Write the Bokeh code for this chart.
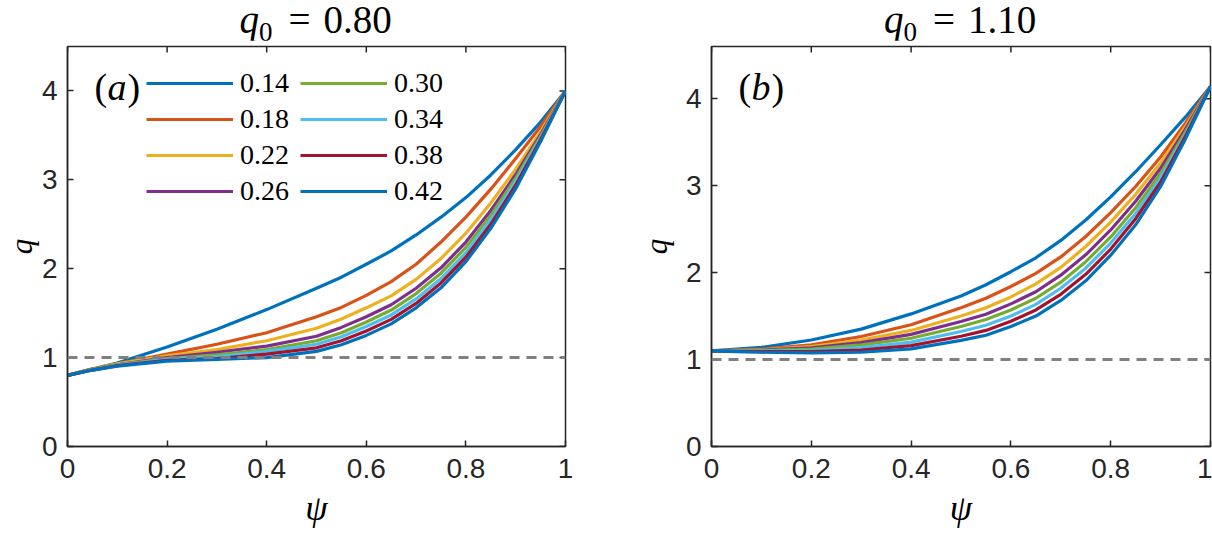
import math

from bokeh.embed import file_html
from bokeh.layouts import column, row
from bokeh.models import (Div, FixedTicker, Label, Legend, LegendItem,
                          Range1d, Span)
from bokeh.plotting import figure
from bokeh.resources import INLINE

# ---------------------------------------------------------------- data
psi = [0.0, 0.05, 0.1, 0.2, 0.3, 0.4, 0.5, 0.55, 0.6, 0.65,
       0.7, 0.75, 0.8, 0.85, 0.9, 0.95, 1.0]

param_labels = ["0.14", "0.18", "0.22", "0.26", "0.30", "0.34", "0.38", "0.42"]

# q profiles for q0 = 0.80
qa_014 = [0.80, 0.87, 0.94, 1.12, 1.32, 1.54, 1.78, 1.905, 2.05, 2.20,
          2.38, 2.58, 2.80, 3.055, 3.34, 3.65, 4.00]
qa_018 = [0.80, 0.87, 0.93, 1.04, 1.15, 1.28, 1.46, 1.565, 1.70, 1.855,
          2.05, 2.30, 2.58, 2.895, 3.24, 3.60, 4.00]
qa_022 = [0.80, 0.87, 0.93, 1.02, 1.09, 1.19, 1.33, 1.435, 1.56, 1.695,
          1.88, 2.115, 2.40, 2.74, 3.12, 3.54, 4.00]
qa_026 = [0.80, 0.87, 0.92, 1.00, 1.06, 1.13, 1.24, 1.34, 1.46, 1.595,
          1.78, 2.01, 2.30, 2.655, 3.06, 3.51, 4.00]
qa_030 = [0.80, 0.87, 0.92, 0.99, 1.03, 1.09, 1.19, 1.28, 1.40, 1.535,
          1.72, 1.95, 2.24, 2.60, 3.02, 3.49, 4.00]
qa_034 = [0.80, 0.86, 0.915, 0.98, 1.01, 1.07, 1.15, 1.235, 1.35, 1.48,
          1.66, 1.89, 2.18, 2.55, 2.98, 3.47, 4.00]
qa_038 = [0.80, 0.86, 0.91, 0.97, 0.99, 1.04, 1.11, 1.19, 1.30, 1.43,
          1.61, 1.84, 2.13, 2.50, 2.94, 3.45, 4.00]
qa_042 = [0.80, 0.86, 0.905, 0.96, 0.98, 1.00, 1.07, 1.145, 1.25, 1.38,
          1.56, 1.785, 2.08, 2.455, 2.90, 3.43, 4.00]

# q profiles for q0 = 1.10
qb_014 = [1.10, 1.12, 1.14, 1.225, 1.35, 1.525, 1.73, 1.86, 2.01, 2.17,
          2.37, 2.605, 2.87, 3.16, 3.47, 3.79, 4.14]
qb_018 = [1.10, 1.11, 1.12, 1.17, 1.265, 1.40, 1.595, 1.705, 1.84, 1.99,
          2.18, 2.415, 2.69, 2.99, 3.33, 3.72, 4.14]
qb_022 = [1.10, 1.105, 1.11, 1.15, 1.225, 1.335, 1.50, 1.595, 1.72, 1.87,
          2.06, 2.30, 2.58, 2.90, 3.26, 3.68, 4.14]
qb_026 = [1.10, 1.10, 1.107, 1.135, 1.195, 1.29, 1.437, 1.52, 1.64, 1.78,
          1.97, 2.205, 2.49, 2.82, 3.20, 3.65, 4.14]
qb_030 = [1.10, 1.10, 1.103, 1.12, 1.168, 1.245, 1.38, 1.46, 1.57, 1.705,
          1.89, 2.125, 2.41, 2.745, 3.14, 3.62, 4.14]
qb_034 = [1.10, 1.10, 1.098, 1.103, 1.137, 1.20, 1.322, 1.395, 1.50, 1.635,
          1.82, 2.05, 2.34, 2.68, 3.09, 3.59, 4.14]
qb_038 = [1.10, 1.095, 1.09, 1.09, 1.11, 1.16, 1.268, 1.335, 1.44, 1.57,
          1.75, 1.98, 2.27, 2.62, 3.04, 3.57, 4.14]
qb_042 = [1.10, 1.09, 1.084, 1.076, 1.084, 1.122, 1.22, 1.28, 1.38, 1.50,
          1.68, 1.905, 2.20, 2.55, 2.99, 3.54, 4.14]

x_ticks = [0, 0.2, 0.4, 0.6, 0.8, 1]
x_tick_labels = ["0", "0.2", "0.4", "0.6", "0.8", "1"]
y_ticks = [0, 1, 2, 3, 4]
y_tick_labels = ["0", "1", "2", "3", "4"]
q_reference = 1.0

curves_a = [qa_014, qa_018, qa_022, qa_026, qa_030, qa_034, qa_038, qa_042]
curves_b = [qb_014, qb_018, qb_022, qb_026, qb_030, qb_034, qb_038, qb_042]

# ---------------------------------------------------------------- style
colors = ["#0072BD", "#D95319", "#EDB120", "#7E2F8E",
          "#77AC30", "#4DBEEE", "#A2142F", "#0072BD"]
AX = "#262626"
SERIF = "Liberation Serif"
SANS = "Liberation Sans"
FRAME_H = 400
TICK_LEN = 6


def style_axis(axis, ticks, labels):
    axis.ticker = FixedTicker(ticks=ticks)
    axis.major_label_overrides = {t: s for t, s in zip(ticks, labels)}
    axis.major_tick_in = TICK_LEN
    axis.major_tick_out = 0
    axis.minor_tick_line_color = None
    axis.axis_line_color = AX
    axis.axis_line_width = 1.5
    axis.major_tick_line_color = AX
    axis.major_tick_line_width = 1.5
    axis.major_label_text_color = AX
    axis.major_label_text_font = SANS
    axis.major_label_text_font_size = "28px"


def title_div(width, offset, frame_w, q0_text):
    html = (
        f'<div style="width:{frame_w}px;margin-left:{offset}px;'
        f"text-align:center;font-family:'{SERIF}';font-size:39px;"
        'line-height:40px;color:black;white-space:nowrap">'
        '<i>q</i><span style="font-size:27px;position:relative;top:8px">0</span>'
        '<span style="margin:0 13px 0 16px">=</span>'
        f'{q0_text}</div>'
    )
    return Div(text=html, width=width, height=40, margin=0)


def make_panel(width, border_left, border_right, y_max, curves, tag,
               ylabel_gap):
    p = figure(width=width, height=496, x_range=Range1d(0, 1),
               y_range=Range1d(0, y_max), output_backend="svg",
               toolbar_location=None, min_border_left=border_left,
               min_border_right=border_right, min_border_top=6,
               min_border_bottom=90)
    p.grid.visible = False
    p.outline_line_color = AX
    p.outline_line_width = 1.5
    p.background_fill_color = "white"
    p.border_fill_color = "white"

    xa = p.xaxis[0]
    style_axis(xa, x_ticks, x_tick_labels)
    xa.major_label_standoff = 12
    xa.axis_label = "\u03c8"
    xa.axis_label_text_font = SERIF
    xa.axis_label_text_font_style = "italic"
    xa.axis_label_text_font_size = "36px"
    xa.axis_label_text_color = "black"
    xa.axis_label_standoff = 7

    ya = p.yaxis[0]
    style_axis(ya, y_ticks, y_tick_labels)
    ya.major_label_standoff = 10
    ya.axis_label = "q"
    ya.axis_label_text_font = SERIF
    ya.axis_label_text_font_style = "italic"
    ya.axis_label_text_font_size = "31px"
    ya.axis_label_text_color = "black"
    ya.axis_label_standoff = ylabel_gap

    # mirrored tick marks on the top and right edges of the box
    # (each dash is centred on the edge; the frame clips its outer half)
    p.scatter(x=x_ticks, y=[y_max] * len(x_ticks), marker="dash",
              angle=math.pi / 2, size=2 * TICK_LEN, line_color=AX,
              line_width=1.5)
    p.scatter(x=[1] * len(y_ticks), y=y_ticks, marker="dash",
              size=2 * TICK_LEN, line_color=AX, line_width=1.5)

    renderers = []
    for ys, c in zip(curves, colors):
        r = p.line(psi, ys, line_color=c, line_width=3.2, line_join="round")
        renderers.append(r)

    p.add_layout(Span(location=q_reference, dimension="width",
                      line_color="#808080", line_width=3, line_dash="10 7"))

    # panel tag: upright parentheses around an italic letter
    for txt, x, style in (("(", 27, "normal"), (tag, 40, "italic"),
                          (")", 60, "normal")):
        p.add_layout(Label(x=x, y=FRAME_H - 40, x_units="screen",
                           y_units="screen", text=txt, text_baseline="middle",
                           text_font=SERIF, text_font_style=style,
                           text_font_size="38px", text_color="black"))
    return p, renderers


pa, rends_a = make_panel(635, 66, 70, 4.5, curves_a, "a", 0)
pb, rends_b = make_panel(577, 75, 2, 4.6, curves_b, "b", 9)

legend = Legend(
    items=[LegendItem(label=lab, renderers=[r])
           for lab, r in zip(param_labels, rends_a)],
    nrows=4, orientation="vertical", location=(79, 239),
    glyph_width=87, glyph_height=30, label_standoff=7, label_width=56,
    label_height=30, spacing=4, padding=0, margin=0,
    border_line_alpha=0, background_fill_alpha=0,
    label_text_font=SERIF, label_text_font_size="28px",
    label_text_color="black")
pa.add_layout(legend)

titles = row(title_div(635, 66, 499, "0.80"), title_div(577, 75, 500, "1.10"))
layout = column(titles, row(pa, pb))
open("out.html", "w").write(file_html(layout, INLINE))
